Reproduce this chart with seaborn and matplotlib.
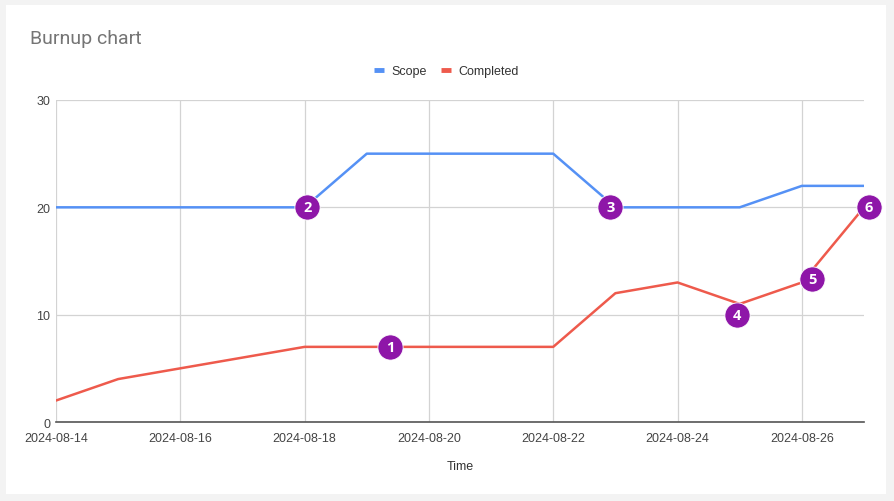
import matplotlib
matplotlib.use("Agg")
import matplotlib.pyplot as plt
import matplotlib.dates as mdates
from matplotlib.patches import Rectangle
import seaborn as sns
import pandas as pd
import numpy as np

dates = pd.date_range("2024-08-14", "2024-08-27", freq="D")
scope = [20, 20, 20, 20, 20, 25, 25, 25, 25, 20, 20, 20, 22, 22]
completed = [2, 4, 5, 6, 7, 7, 7, 7, 7, 12, 13, 11, 13, 20]

# numbered callouts: (label, date, value)
callout_labels = ["1", "2", "3", "4", "5", "6"]
callout_dates = ["2024-08-19 09:00", "2024-08-18 01:00", "2024-08-22 22:00",
                 "2024-08-24 23:00", "2024-08-26 04:00", "2024-08-27 02:00"]
callout_values = [7.0, 20.0, 20.0, 10.0, 13.3, 20.0]

df = pd.DataFrame({
    "date": list(dates) * 2,
    "value": scope + completed,
    "series": ["Scope"] * len(dates) + ["Completed"] * len(dates),
})

sns.set_style("white")
plt.rcParams["font.family"] = ["Liberation Sans", "DejaVu Sans"]

fig = plt.figure(figsize=(8.95, 5.02), dpi=100, facecolor="#f3f3f3")
# white card
fig.patches.append(Rectangle((6 / 895, 1 - 495 / 502), 880 / 895, 489 / 502,
                             transform=fig.transFigure, facecolor="white",
                             edgecolor="none", zorder=-5))

ax = fig.add_axes([56 / 895, 1 - 423 / 502, 808 / 895, 322 / 502])
ax.set_facecolor("none")
ax.set_zorder(2)

sns.lineplot(data=df, x="date", y="value", hue="series",
             palette={"Scope": "#5591f5", "Completed": "#ee5a4c"},
             linewidth=1.8, ax=ax, zorder=3)

for lab, d, v in zip(callout_labels, callout_dates, callout_values):
    ax.scatter(pd.Timestamp(d), v, s=330, color="#8e16a8", zorder=5,
               edgecolors="white", linewidths=0.6, clip_on=False)
    ax.text(pd.Timestamp(d), v, lab, color="white", fontsize=10.5, fontweight="bold",
            family=["Open Sans", "DejaVu Sans"], ha="center", va="center", zorder=6)

ax.set_xlim(dates[0], dates[-1])
ax.set_ylim(0, 30)
ax.set_yticks([0, 10, 20, 30])
ax.xaxis.set_major_locator(mdates.DayLocator(bymonthday=range(14, 28, 2)))
ax.xaxis.set_major_formatter(mdates.DateFormatter("%Y-%m-%d"))
ax.grid(True, color="#d3d3d3", linewidth=0.9)
ax.tick_params(axis="both", length=0, labelsize=9, labelcolor="#444444")
ax.tick_params(axis="x", pad=7)
ax.tick_params(axis="y", pad=4)
for s in ["top", "right", "left"]:
    ax.spines[s].set_visible(False)
ax.spines["bottom"].set_color("#555555")
ax.spines["bottom"].set_linewidth(1.2)
ax.set_xlabel("Time", fontsize=9, color="#333333", labelpad=12)
ax.set_ylabel("")

leg = ax.legend(loc="center", bbox_to_anchor=(0.483, 1 + 29 / 322), ncol=2, frameon=False,
                fontsize=9, handlelength=0.8, columnspacing=1.1, handletextpad=0.6)
for line in leg.get_lines():
    line.set_linewidth(3.5)
    line.set_solid_capstyle("butt")
for t in leg.get_texts():
    t.set_color("#333333")

fig.text(30 / 895, 1 - 39 / 502, "Burnup chart", fontsize=14, color="#757575",
         family=["Roboto", "DejaVu Sans"], ha="left", va="center")

fig.savefig("out.png", dpi=100, facecolor=fig.get_facecolor())
